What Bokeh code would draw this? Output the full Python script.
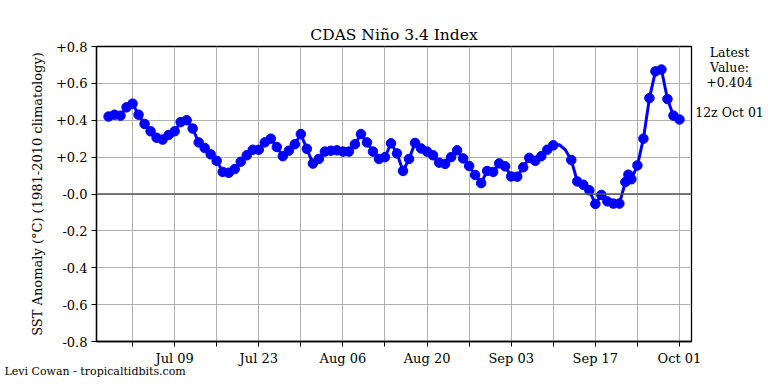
import pandas as pd
from bokeh.plotting import figure
from bokeh.models import Range1d, FixedTicker, Span, Label, ColumnDataSource, Title
from bokeh.embed import file_html
from bokeh.resources import INLINE

# ---- data ----
series_start = "2024-06-28"
series_end = "2024-10-01"
anomaly = [
    0.42, 0.43, 0.425,
    0.47, 0.49, 0.43, 0.38, 0.34, 0.305, 0.295, 0.32, 0.34, 0.39, 0.40, 0.355, 0.28, 0.25, 0.215, 0.18,
    0.12, 0.115, 0.135, 0.175, 0.21, 0.24, 0.24, 0.28, 0.30, 0.255, 0.205, 0.235, 0.27, 0.325, 0.245,
    0.165, 0.19, 0.23, 0.235, 0.237, 0.23, 0.23, 0.27, 0.325, 0.28, 0.23, 0.19, 0.20, 0.275, 0.22, 0.125,
    0.19, 0.277, 0.247, 0.23, 0.21, 0.17, 0.163, 0.20, 0.237, 0.193, 0.152, 0.103, 0.059, 0.125, 0.12,
    0.166, 0.15, 0.095, 0.094, 0.145, 0.196, 0.18, 0.205, 0.24, 0.264, 0.267, 0.24, 0.184, 0.068, 0.05,
    0.02, -0.054, -0.005, -0.04, -0.052, -0.052, 0.065, 0.08, 0.155, 0.30, 0.52, 0.665, 0.675, 0.515, 0.425,
    0.404,
]
dates_without_marker = ["2024-09-11", "2024-09-12"]
extra_dates = ["2024-09-22 12:00"]
extra_values = [0.105]

x_tick_dates = ["2024-07-02", "2024-07-09", "2024-07-16", "2024-07-23", "2024-07-30", "2024-08-06",
                "2024-08-13", "2024-08-20", "2024-08-27", "2024-09-03", "2024-09-10", "2024-09-17",
                "2024-09-24", "2024-10-01"]
x_tick_labels = ["", "Jul 09", "", "Jul 23", "", "Aug 06", "", "Aug 20", "", "Sep 03", "", "Sep 17", "", "Oct 01"]
y_ticks = [-0.8, -0.6, -0.4, -0.2, 0.0, 0.2, 0.4, 0.6, 0.8]
y_tick_labels = ["-0.8", "-0.6", "-0.4", "-0.2", "-0.0", "+0.2", "+0.4", "+0.6", "+0.8"]

title_text = "CDAS Niño 3.4 Index"
y_label_text = "SST Anomaly (°C) (1981-2010 climatology)"
latest_text = "Latest\nValue:\n+0.404\n\n12z Oct 01"
credit_text = "Levi Cowan - tropicaltidbits.com"

# ---- build table ----
daily = pd.DataFrame({"date": pd.date_range(series_start, series_end, freq="D"), "value": anomaly})
extra = pd.DataFrame({"date": pd.to_datetime(extra_dates), "value": extra_values})
line_df = pd.concat([daily, extra]).sort_values("date").reset_index(drop=True)
marker_df = line_df[~line_df["date"].isin(pd.to_datetime(dates_without_marker))]

FONT = "DejaVu Serif"

p = figure(
    x_axis_type="datetime",
    frame_width=595, frame_height=295,
    min_border_left=96, min_border_right=77, min_border_top=46, min_border_bottom=43,
    output_backend="svg", toolbar_location=None,
    x_range=Range1d(pd.Timestamp("2024-06-26"), pd.Timestamp("2024-10-03")),
    y_range=Range1d(-0.8, 0.8),
    title=title_text,
)
p.title.text_font = FONT
p.title.text_font_size = "15.5px"
p.title.text_font_style = "normal"
p.title.text_color = "black"
p.title.align = "center"
p.title.standoff = 6

p.background_fill_color = "white"
p.border_fill_color = "white"
p.outline_line_color = "black"
p.outline_line_width = 1.3

tick_ms = [pd.Timestamp(d).value / 1e6 for d in x_tick_dates]
p.xaxis.ticker = FixedTicker(ticks=tick_ms)
p.xaxis.major_label_overrides = dict(zip(tick_ms, x_tick_labels))
p.yaxis.ticker = FixedTicker(ticks=y_ticks)
p.yaxis.major_label_overrides = dict(zip(y_ticks, y_tick_labels))

for ax in (p.xaxis[0], p.yaxis[0]):
    ax.major_label_text_font = FONT
    ax.major_label_text_font_size = "13px"
    ax.major_label_text_color = "black"
    ax.axis_line_color = "black"
    ax.axis_line_width = 1.3
    ax.major_tick_line_color = "black"
    ax.major_tick_out = 5
    ax.major_tick_in = 0
    ax.minor_tick_line_color = None
    ax.major_label_standoff = 4

p.yaxis.axis_label = y_label_text
p.yaxis.axis_label_text_font = FONT
p.yaxis.axis_label_text_font_size = "13px"
p.yaxis.axis_label_text_font_style = "normal"
p.yaxis.axis_label_text_color = "black"
p.yaxis.axis_label_standoff = 8

p.xgrid.grid_line_color = "#b0b0b0"
p.ygrid.grid_line_color = "#b0b0b0"
p.xgrid.grid_line_width = 1
p.ygrid.grid_line_width = 1

p.add_layout(Span(location=0, dimension="width", line_color="#555555", line_width=1.5))

p.line(x="date", y="value", source=ColumnDataSource(line_df), line_color="blue", line_width=3)
p.scatter(x="date", y="value", source=ColumnDataSource(marker_df), size=9.5,
          fill_color="blue", line_color="blue")

p.add_layout(Label(x=38, y=297, x_units="screen", y_units="screen", text=latest_text,
                   text_align="center", text_baseline="top", text_font=FONT,
                   text_font_size="12.5px", text_line_height=1.0, text_color="black"), "right")
p.add_layout(Title(text=credit_text, align="left", offset=-92, text_font=FONT,
                   text_font_size="11px", text_font_style="normal", text_color="black",
                   standoff=-12), "below")

open("out.html", "w").write(file_html(p, INLINE))
